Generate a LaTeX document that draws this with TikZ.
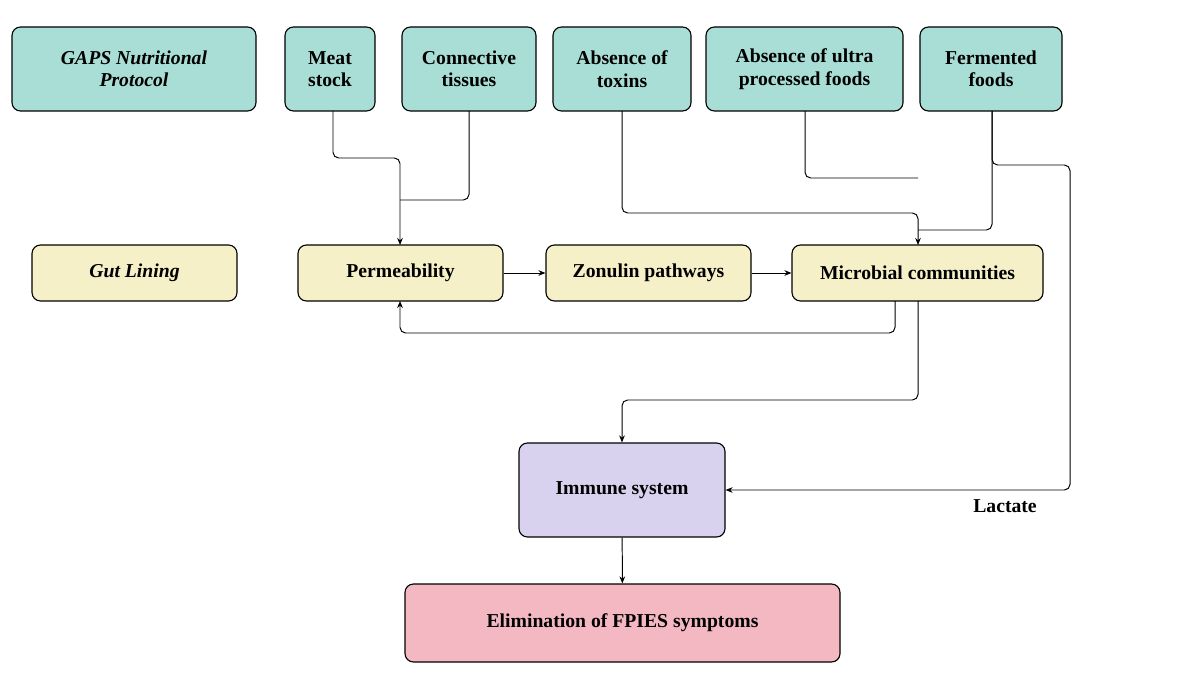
\documentclass[tikz,border=0pt]{standalone}
\usepackage{fontspec}
\setmainfont{Liberation Serif}
\usetikzlibrary{arrows.meta}
\begin{document}
\begin{tikzpicture}[x=0.025cm,y=-0.025cm,
  box/.style={draw,line width=0.8pt,rounded corners=6pt,align=center,font=\fontsize{14}{16}\selectfont\bfseries,inner sep=0pt},
  teal/.style={box,fill=teal0},
  yel/.style={box,fill=yel0},
  con/.style={draw,line width=0.7pt,rounded corners=4pt},
  arr/.style={con,-{Stealth[length=5pt,width=4pt]}}]
\definecolor{teal0}{HTML}{A8DED6}
\definecolor{yel0}{HTML}{F5F0C8}
\definecolor{lav}{HTML}{D9D2EE}
\definecolor{pnk}{HTML}{F4B8C2}
\useasboundingbox (0,0) rectangle (1200,675);
\newcommand{\bx}[7]{\node[#1,minimum width=#4*0.025cm-#3*0.025cm,minimum height=#6*0.025cm-#5*0.025cm] (#2) at ({(#3+#4)/2},{(#5+#6)/2}) {#7};}
\bx{teal}{gaps}{12}{256}{27}{111}{\itshape GAPS Nutritional\\\itshape Protocol}
\bx{teal}{meat}{285}{375}{27}{111}{Meat\\stock}
\bx{teal}{conn}{402}{536}{27}{111}{Connective\\tissues}
\bx{teal}{tox}{553}{691}{27}{111}{Absence of\\toxins}
\bx{teal}{ultra}{706}{903}{27}{111}{Absence of ultra\\processed foods}
\bx{teal}{ferm}{920}{1062}{27}{111}{Fermented\\foods}
\bx{yel}{gut}{32}{237}{245}{301}{\itshape Gut Lining}
\bx{yel}{perm}{298}{503}{245}{301}{Permeability}
\bx{yel}{zon}{546}{751}{245}{301}{Zonulin pathways}
\bx{yel}{mic}{792}{1043}{245}{301}{Microbial communities}
\bx{box,fill=lav}{imm}{519}{725}{443}{537}{Immune system}
\bx{box,fill=pnk}{elim}{405}{840}{584}{662}{Elimination of FPIES symptoms}
\coordinate (lac) at (1070,490);
\node[font=\fontsize{14}{16}\selectfont\bfseries] (lact) at (1005,506) {Lactate};
\draw[arr] (333,111) |- (400,158) -- (400,245);
\draw[con] (469,111) |- (400,200);
\draw[arr] (622,111) |- (918,213) -- (918,245);
\draw[con] (805,111) |- (918,178);
\draw[con] (992,111) |- (918,230);
\draw[arr] (992,111) |- (1070,165) |- (imm.east);
\draw[arr] (perm) -- (zon);
\draw[arr] (zon) -- (mic);
\draw[arr] (895,301) |- (400,333) -- (400,301);
\draw[arr] (918,301) |- (622,400) -- (imm.north);
\draw[arr] (imm) -- (elim);
\end{tikzpicture}
\end{document}
